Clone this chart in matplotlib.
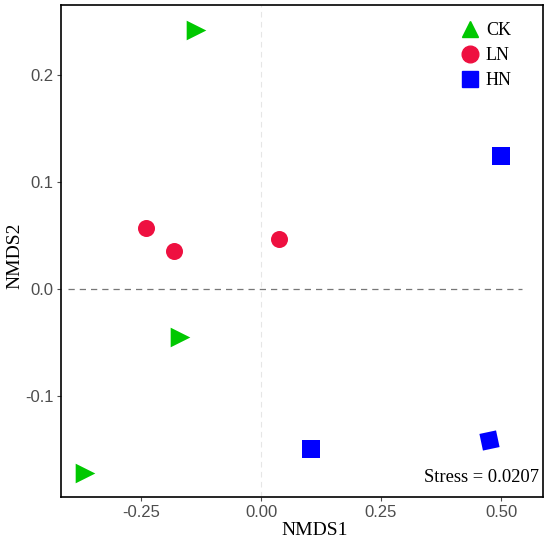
import matplotlib.pyplot as plt
from matplotlib.lines import Line2D

# NMDS scores
ck_x = [-0.135, -0.169, -0.367]
ck_y = [0.242, -0.0445, -0.172]
ln_x = [-0.240, -0.181, 0.0375]
ln_y = [0.057, 0.0357, 0.047]
hn_x = [0.500, 0.104]
hn_y = [0.124, -0.149]
hn_tilt_x = [0.475]
hn_tilt_y = [-0.1406]

groups = ['CK', 'LN', 'HN']
colors = {'CK': '#00C800', 'LN': '#EE1040', 'HN': '#0000FF'}
stress = 0.0207

xticks = [-0.25, 0.0, 0.25, 0.50]
xticklabels = ['-0.25', '0.00', '0.25', '0.50']
yticks = [-0.1, 0.0, 0.1, 0.2]
yticklabels = ['-0.1', '0.0', '0.1', '0.2']

serif = ['Liberation Serif', 'DejaVu Serif']
sans = ['Liberation Sans', 'DejaVu Sans']

fig = plt.figure(figsize=(5.5, 5.42), dpi=100)
ax = fig.add_axes([0.1109, 0.083, 0.8764, 0.9075])

# reference lines
ax.axvline(0, color='#e6e6e6', lw=0.8, ls=(0, (5, 4)), zorder=1)
ax.axhline(0, xmin=0.015, xmax=0.956, color='#777777', lw=0.9, ls=(0, (5, 4)), zorder=1)

ax.scatter(ck_x, ck_y, marker='>', s=200, color=colors['CK'], lw=0, zorder=3)
ax.scatter(ln_x, ln_y, marker='o', s=150, color=colors['LN'], lw=0, zorder=3)
ax.scatter(hn_x, hn_y, marker='s', s=175, color=colors['HN'], lw=0, zorder=3)
ax.scatter(hn_tilt_x, hn_tilt_y, marker=(4, 0, 57), s=300, color=colors['HN'], lw=0, zorder=3)

ax.set_xlim(-0.4167, 0.5875)
ax.set_ylim(-0.194, 0.265)
ax.set_xticks(xticks)
ax.set_xticklabels(xticklabels, family=sans)
ax.set_yticks(yticks)
ax.set_yticklabels(yticklabels, family=sans)
ax.tick_params(colors='#4d4d4d', labelsize=12, length=3, width=0.8, pad=2.5)

for sp in ax.spines.values():
    sp.set_linewidth(1.2)
    sp.set_color('black')

ax.set_xlabel('NMDS1', family=serif, fontsize=14)
ax.xaxis.set_label_coords(0.527, -0.05, transform=ax.transAxes)
ax.xaxis.label.set_va('top')
ax.set_ylabel('NMDS2', family=serif, fontsize=14)
ax.yaxis.set_label_coords(-0.077, 0.49, transform=ax.transAxes)

ax.text(0.992, 0.022, f'Stress = {stress}', transform=ax.transAxes,
        ha='right', va='bottom', family=serif, fontsize=13.3)

handles = [
    Line2D([], [], marker='^', ls='', ms=12, color=colors['CK']),
    Line2D([], [], marker='o', ls='', ms=12, color=colors['LN']),
    Line2D([], [], marker='s', ls='', ms=11, color=colors['HN']),
]
ax.legend(handles, groups, loc='upper right', bbox_to_anchor=(0.95, 0.98),
          frameon=False, prop={'family': serif, 'size': 13}, handletextpad=0.3,
          labelspacing=0.45, borderaxespad=0, handlelength=1.2)

fig.savefig('out.png', dpi=100)
